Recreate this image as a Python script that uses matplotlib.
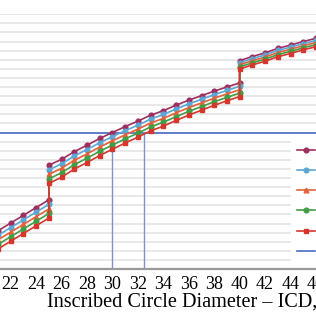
import matplotlib
matplotlib.use("Agg")
import matplotlib.pyplot as plt

# x positions (the curves jump at 25 and 40, hence the repeated values)
icd = [21, 22, 23, 24, 25, 25, 26, 27, 28, 29, 30, 31, 32, 33, 34, 35, 36,
       37, 38, 39, 40, 40, 41, 42, 43, 44, 45, 46]

s1 = [4.2, 5.05, 5.9, 6.75, 7.6,
      11.4, 12.05, 12.9, 13.6, 14.35, 15.0, 15.65, 16.25, 16.9, 17.4, 18.0,
      18.55, 19.05, 19.55, 20.0, 20.45,
      22.9, 23.35, 23.75, 24.25, 24.6, 25.0, 25.35]
s2 = [3.7, 4.55, 5.4, 6.25, 7.1,
      10.9, 11.56, 12.42, 13.13, 13.88, 14.54, 15.2, 15.81, 16.47, 16.98, 17.58,
      18.14, 18.65, 19.16, 19.62, 20.08,
      22.67, 23.12, 23.52, 24.02, 24.37, 24.77, 25.12]
s3 = [3.2, 4.05, 4.9, 5.75, 6.6,
      10.4, 11.07, 11.94, 12.65, 13.41, 14.08, 14.75, 15.37, 16.04, 16.55, 17.16,
      17.73, 18.25, 18.77, 19.24, 19.7,
      22.44, 22.89, 23.29, 23.79, 24.14, 24.54, 24.89]
s4 = [2.7, 3.55, 4.4, 5.25, 6.1,
      9.9, 10.58, 11.46, 12.18, 12.94, 13.62, 14.3, 14.93, 15.61, 16.13, 16.74,
      17.32, 17.85, 18.38, 18.86, 19.33,
      22.21, 22.66, 23.06, 23.56, 23.91, 24.31, 24.66]
s5 = [2.2, 3.05, 3.9, 4.75, 5.6,
      9.4, 10.09, 10.98, 11.7, 12.47, 13.16, 13.85, 14.49, 15.18, 15.7, 16.32,
      16.91, 17.45, 17.99, 18.48, 18.95,
      21.98, 22.43, 22.83, 23.33, 23.68, 24.08, 24.43]

limit = 15.0
limit_x = [30, 32.5]

labels = ["Series 1", "Series 2", "Series 3", "Series 4", "Series 5", "Limit"]
colors = ["#9e2f5f", "#5ba7d6", "#e5603a", "#3f9e46", "#d8362c"]
markers = ["o", "o", "^", "o", "s"]

fig = plt.figure(figsize=(3.16, 3.16), dpi=100)
# bottom spine at 269 px from the top, 9.1 px per y unit
ax = fig.add_axes([0, 1 - 269 / 316, 1, 28 * 9.1 / 316])

handles = []
for ys, c, m, lab in zip([s1, s2, s3, s4, s5], colors, markers, labels):
    h, = ax.plot(icd, ys, color=c, marker=m, markersize=3.4, linewidth=1.2,
                 label=lab, zorder=3)
    handles.append(h)

hl = ax.axhline(limit, color="#4a6cc4", linewidth=1.2, zorder=2, label=labels[5])
handles.append(hl)
for xv in limit_x:
    ax.plot([xv, xv], [0, limit], color="#7f8fd0", linewidth=1.0, zorder=2)

ax.set_xlim(21.16, 45.66)
ax.set_ylim(0, 28)
ax.set_xticks(range(22, 47, 2))
ax.set_yticks(range(0, 29))
ax.set_yticklabels([])
ax.grid(axis="y", color="#e2e2e2", linewidth=1.1)
ax.set_axisbelow(True)
for side in ["top", "right", "left"]:
    ax.spines[side].set_visible(False)
ax.spines["bottom"].set_color("#9a9a9a")
ax.spines["bottom"].set_linewidth(1.6)
ax.tick_params(axis="x", length=0, pad=5, labelsize=13)
ax.tick_params(axis="y", length=0)
for t in ax.get_xticklabels():
    t.set_fontfamily("Liberation Serif")

ax.set_xlabel("Inscribed Circle Diameter \u2013 ICD, mm", fontsize=14.6,
              fontfamily="Liberation Serif")
ax.xaxis.set_label_coords(47 / 316, -33 / (28 * 9.1))
ax.xaxis.label.set_horizontalalignment("left")
ax.xaxis.label.set_verticalalignment("center")

leg = ax.legend(handles=handles, loc="upper left",
                bbox_to_anchor=(291 / 316, 1 - 138 / 316),
                bbox_transform=fig.transFigure, frameon=True, fontsize=10,
                handlelength=1.3, labelspacing=0.45, borderaxespad=0,
                borderpad=0.4, fancybox=False)
leg.get_frame().set_edgecolor("white")
leg.get_frame().set_facecolor("white")
leg.get_frame().set_alpha(1)
leg.set_zorder(5)

fig.savefig("out.png", dpi=100)
